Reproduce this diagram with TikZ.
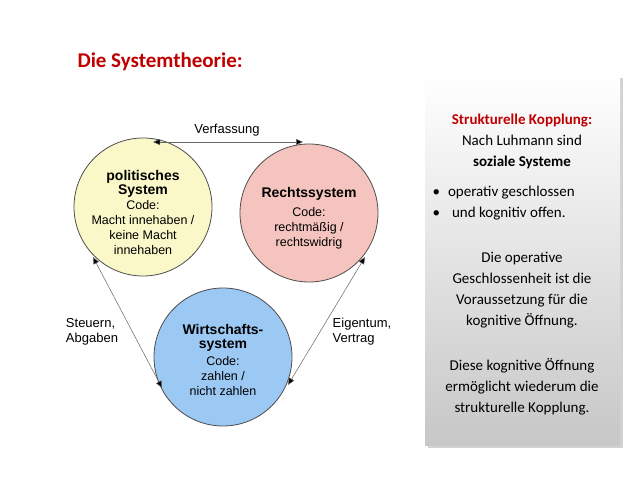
\documentclass[tikz,border=0pt]{standalone}
\usepackage{fontspec}
\setmainfont{Carlito}
\newfontfamily\arial{Liberation Sans}
\usetikzlibrary{arrows.meta,shadows}
\definecolor{ttl}{HTML}{C00000}
\definecolor{ycirc}{HTML}{FAF8C8}
\definecolor{pcirc}{HTML}{F6C4BE}
\definecolor{bcirc}{HTML}{9CC8F4}
\tikzset{
 sys/.style={circle,draw=black!70,line width=0.8pt,minimum size=138pt,inner sep=0pt},
 conn/.style={draw=black!60,line width=0.5pt,{Triangle[length=7pt,width=6pt,fill=black]}-{Triangle[length=7pt,width=6pt,fill=black]}},
 lbl/.style={font=\arial\fontsize{13}{15}\selectfont,align=left},
 ctext/.style={font=\arial\fontsize{12.5}{15}\selectfont,align=center},
 ptext/.style={font=\fontsize{15}{21}\selectfont,align=center}
}
\begin{document}
\begin{tikzpicture}[x=1pt,y=-1pt]
\useasboundingbox[fill=white] (0,0) rectangle (638,479);
\node[anchor=west,text=ttl,font=\bfseries\fontsize{21}{24}\selectfont] (title) at (74,62) {Die Systemtheorie:};
\shade[top color=white,bottom color=black!22,drop shadow={opacity=0.35,shadow xshift=3pt,shadow yshift=-3pt}] (425,75) rectangle (620,445);
\node[sys,fill=ycirc] (pol) at (143,207) {};
\node[sys,fill=pcirc] (re) at (309,213) {};
\node[sys,fill=bcirc] (wi) at (223,357) {};
\node[ctext] (polt) at (143,212) {\textbf{\fontsize{14}{17}\selectfont politisches}\\[-1pt]\textbf{\fontsize{14}{17}\selectfont System}\\Code:\\Macht innehaben /\\keine Macht\\innehaben};
\node[ctext] (ret) at (309,218) {\textbf{\fontsize{14}{17}\selectfont Rechtssystem}\\[4pt]Code:\\rechtmäßig /\\rechtswidrig};
\node[ctext] (wit) at (223,360) {\textbf{\fontsize{14}{17}\selectfont Wirtschafts-}\\[-1pt]\textbf{\fontsize{14}{17}\selectfont system}\\[2pt]Code:\\zahlen /\\nicht zahlen};
\coordinate (a1) at (153,142); \coordinate (a2) at (303,142);
\coordinate (b1) at (93,257); \coordinate (b2) at (162,388);
\coordinate (c1) at (365,257); \coordinate (c2) at (288,385);
\draw[conn] (a1) -- (a2);
\draw[conn] (b1) -- (b2);
\draw[conn] (c1) -- (c2);
\node[lbl] (verf) at (227,130) {Verfassung};
\node[lbl] (st) at (92,332) {Steuern,\\Abgaben};
\node[lbl] (eig) at (362,332) {Eigentum,\\Vertrag};
\node[ptext,anchor=north] (p1) at (522,110) {\textcolor{ttl}{\textbf{Strukturelle Kopplung:}}\\Nach Luhmann sind\\\textbf{soziale Systeme}};
\node[ptext,anchor=north west,align=left] (p2) at (429,183) {\textbullet\hspace{8pt}operativ geschlossen\\\textbullet\hspace{12pt}und kognitiv offen.};
\node[ptext,anchor=north] (p3) at (522,249) {Die operative\\Geschlossenheit ist die\\Voraussetzung für die\\kognitive Öffnung.};
\node[ptext,anchor=north] (p4) at (522,355) {Diese kognitive Öffnung\\ermöglicht wiederum die\\strukturelle Kopplung.};
\end{tikzpicture}
\end{document}
